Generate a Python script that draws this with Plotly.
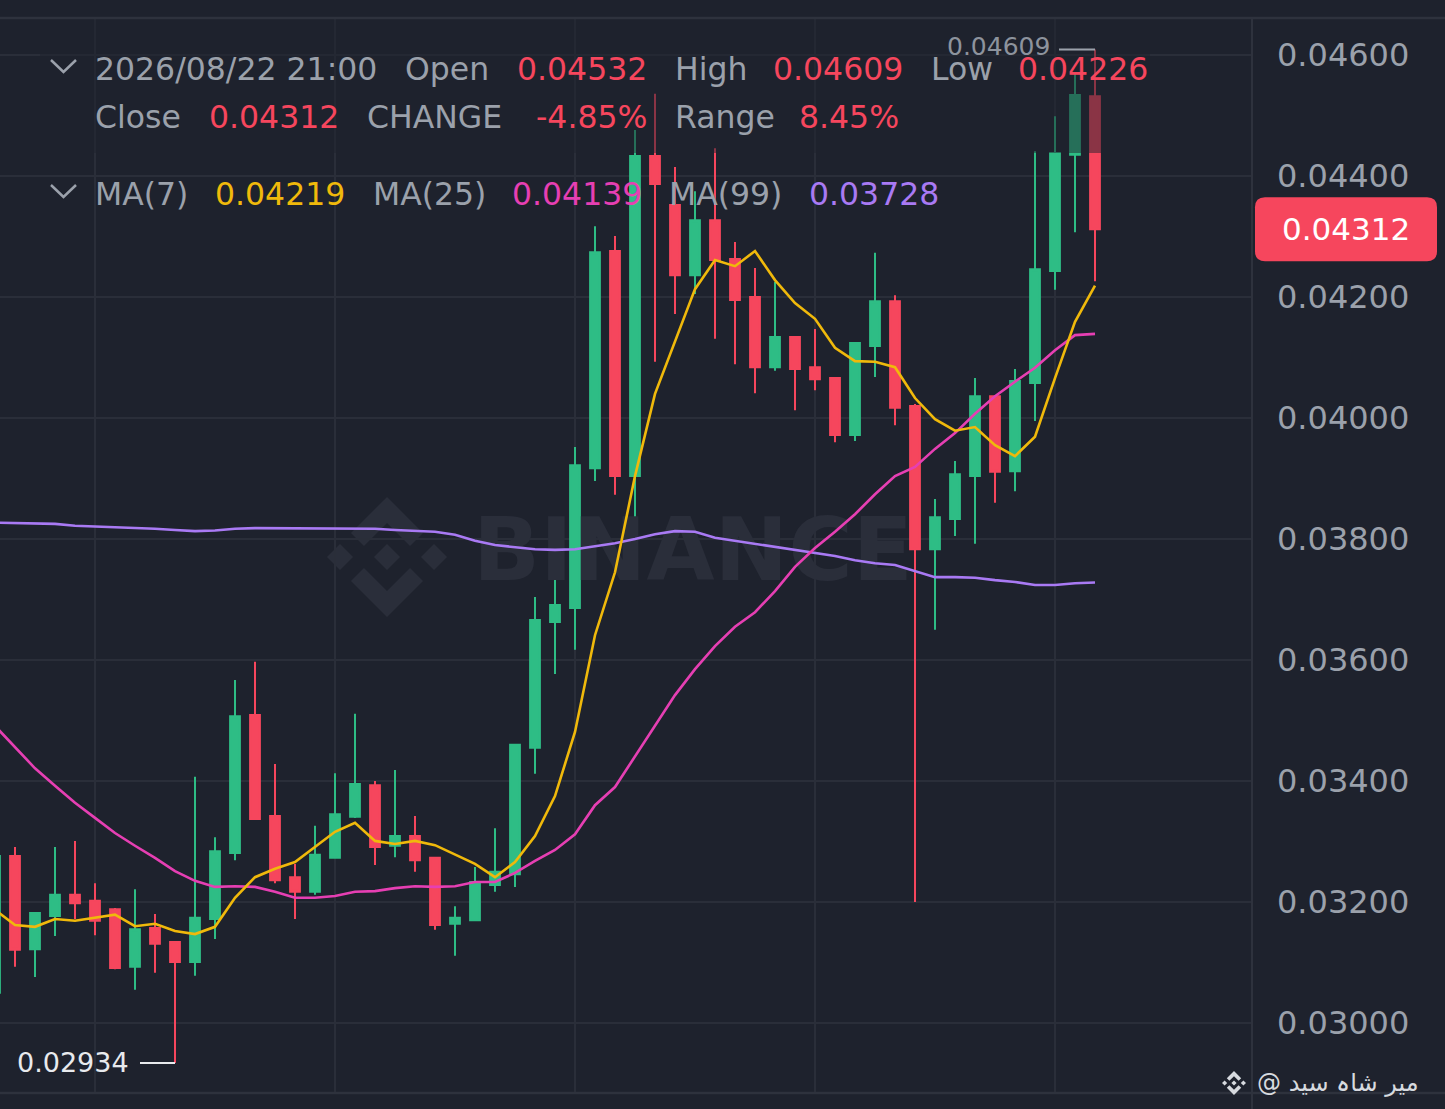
import plotly.graph_objects as go

# ── Datos (velas de 1h, índice relativo; la última es 2026/08/22 21:00) ──────
LAST_TIME = "2026/08/22 21:00"
idx = list(range(-1, 55))

opens = [0.03050, 0.03276, 0.03122, 0.03177, 0.03212, 0.03202, 0.03188, 0.03093,
         0.03157, 0.03134, 0.03101, 0.03172, 0.03281, 0.03509, 0.03342, 0.03241,
         0.03217, 0.03273, 0.03341, 0.03393, 0.03293, 0.03309, 0.03273, 0.03164,
         0.03170, 0.03228, 0.03246, 0.03455, 0.03663, 0.03686, 0.03917, 0.04276,
         0.03904, 0.04433, 0.04352, 0.04236, 0.04327, 0.04263, 0.04200, 0.04084,
         0.04134, 0.04084, 0.04066, 0.03972, 0.04119, 0.04193, 0.04020, 0.03783,
         0.03833, 0.03904, 0.04036, 0.03912, 0.04058, 0.04243, 0.04435, 0.04532]
highs = [0.03286, 0.03291, 0.03182, 0.03291, 0.03301, 0.03231, 0.03190, 0.03221,
         0.03180, 0.03134, 0.03407, 0.03307, 0.03567, 0.03597, 0.03428, 0.03263,
         0.03326, 0.03413, 0.03511, 0.03400, 0.03418, 0.03342, 0.03274, 0.03193,
         0.03258, 0.03322, 0.03460, 0.03704, 0.03807, 0.03952, 0.04317, 0.04301,
         0.04476, 0.04536, 0.04415, 0.04375, 0.04446, 0.04291, 0.04248, 0.04225,
         0.04134, 0.04147, 0.04066, 0.04124, 0.04273, 0.04203, 0.04023, 0.03866,
         0.03929, 0.04066, 0.04036, 0.04081, 0.04441, 0.04499, 0.04570, 0.04609]
lows = [0.03038, 0.03093, 0.03076, 0.03144, 0.03172, 0.03145, 0.03089, 0.03055,
        0.03083, 0.02934, 0.03078, 0.03139, 0.03269, 0.03337, 0.03231, 0.03172,
        0.03212, 0.03273, 0.03339, 0.03261, 0.03274, 0.03250, 0.03154, 0.03111,
        0.03170, 0.03217, 0.03225, 0.03412, 0.03577, 0.03617, 0.03896, 0.03873,
        0.03762, 0.04093, 0.04172, 0.04205, 0.04131, 0.04089, 0.04041, 0.04078,
        0.04013, 0.04046, 0.03960, 0.03962, 0.04068, 0.03988, 0.03200, 0.03650,
        0.03805, 0.03792, 0.03860, 0.03879, 0.03995, 0.04212, 0.04307, 0.04226]
closes = [0.03276, 0.03121, 0.03182, 0.03212, 0.03198, 0.03169, 0.03091, 0.03155,
          0.03131, 0.03101, 0.03174, 0.03284, 0.03507, 0.03337, 0.03236, 0.03217,
          0.03278, 0.03345, 0.03395, 0.03291, 0.03309, 0.03269, 0.03162, 0.03174,
          0.03233, 0.03250, 0.03460, 0.03666, 0.03691, 0.03922, 0.04274, 0.03904,
          0.04433, 0.04387, 0.04236, 0.04327, 0.04261, 0.04195, 0.04084, 0.04134,
          0.04081, 0.04064, 0.03972, 0.04124, 0.04193, 0.04017, 0.03783, 0.03836,
          0.03907, 0.04036, 0.03911, 0.04061, 0.04246, 0.04438, 0.04534, 0.04312]

ma7 = [0.03187, 0.03162, 0.03159, 0.03172, 0.03169, 0.03174, 0.03179, 0.03160,
       0.03164, 0.03152, 0.03147, 0.03159, 0.03207, 0.03241, 0.03255, 0.03266,
       0.03291, 0.03316, 0.03331, 0.03301, 0.03296, 0.03301, 0.03294, 0.03279,
       0.03263, 0.03241, 0.03266, 0.03309, 0.03375, 0.03481, 0.03641, 0.03745,
       0.03904, 0.04040, 0.04126, 0.04213, 0.04261, 0.04251, 0.04276, 0.04228,
       0.04190, 0.04164, 0.04116, 0.04094, 0.04093, 0.04084, 0.04033, 0.03998,
       0.03979, 0.03985, 0.03955, 0.03937, 0.03969, 0.04066, 0.04159, 0.04219]
ma25 = [0.03491, 0.03456, 0.03421, 0.03392, 0.03364, 0.03339, 0.03314, 0.03293,
        0.03273, 0.03251, 0.03235, 0.03225, 0.03226, 0.03225, 0.03217, 0.03207,
        0.03207, 0.03210, 0.03217, 0.03218, 0.03223, 0.03226, 0.03225, 0.03226,
        0.03233, 0.03233, 0.03248, 0.03268, 0.03286, 0.03312, 0.03360, 0.03390,
        0.03441, 0.03493, 0.03542, 0.03585, 0.03623, 0.03655, 0.03679, 0.03714,
        0.03754, 0.03785, 0.03812, 0.03841, 0.03874, 0.03904, 0.03919, 0.03949,
        0.03975, 0.04007, 0.04036, 0.04060, 0.04083, 0.04112, 0.04137, 0.04139]
ma99 = [0.03827, 0.03826, 0.03826, 0.03825, 0.03822, 0.03821, 0.03819, 0.03818,
        0.03817, 0.03815, 0.03813, 0.03814, 0.03817, 0.03818, 0.03818, 0.03818,
        0.03818, 0.03818, 0.03818, 0.03817, 0.03815, 0.03813, 0.03812, 0.03807,
        0.03797, 0.03790, 0.03787, 0.03783, 0.03782, 0.03783, 0.03788, 0.03793,
        0.03800, 0.03808, 0.03813, 0.03812, 0.03802, 0.03797, 0.03792, 0.03787,
        0.03783, 0.03777, 0.03772, 0.03765, 0.03760, 0.03757, 0.03747, 0.03737,
        0.03737, 0.03736, 0.03732, 0.03729, 0.03724, 0.03724, 0.03727, 0.03728]

y_ticks = [0.030, 0.032, 0.034, 0.036, 0.038, 0.040, 0.042, 0.044, 0.046]

# ── Colores ────────────────────────────────────────────────────────────────
BG     = "#1e222d"
GRID   = "#2a2e39"
GREEN  = "#2ebd85"
RED    = "#f6465d"
YELLOW = "#f0b90b"
PINK   = "#e63fb3"
PURPLE = "#a97af4"
GRAY   = "#9ba1ab"
WMARK  = "#2a2e3a"
FONT   = "DejaVu Sans"

# Área del gráfico en píxeles de la página
W, H = 1445, 1109
PL, PR, PT, PB = 0, 1252, 18, 1093


def px(x):
    return (x - PL) / (PR - PL)


def py(y):
    return (PB - y) / (PB - PT)


def poly(points, cx, cy, s):
    pts = [f"{px(cx + s * a):.5f},{py(cy + s * b):.5f}" for a, b in points]
    return "M " + " L ".join(pts) + " Z"


def binance_logo(cx, cy, s, color, layer):
    d = 13
    parts = [
        [(0, -d), (d, 0), (0, d), (-d, 0)],
        [(-47, -d), (-47 + d, 0), (-47, d), (-47 - d, 0)],
        [(47, -d), (47 + d, 0), (47, d), (47 - d, 0)],
        [(0, -60), (36, -24), (23, -11), (0, -34), (-23, -11), (-36, -24)],
        [(0, 60), (36, 24), (23, 11), (0, 34), (-23, 11), (-36, 24)],
    ]
    return [dict(type="path", xref="paper", yref="paper", path=poly(p, cx, cy, s),
                 fillcolor=color, line=dict(width=0), layer=layer) for p in parts]


# ── Figura ─────────────────────────────────────────────────────────────────
fig = go.Figure()

# marca de agua (debajo de las velas)
fig.add_trace(go.Scatter(
    x=[33.9], y=[0.03768], mode="text", text=["BINANCE"],
    textfont=dict(family=FONT, size=88, color=WMARK, weight="bold"),
    hoverinfo="skip", showlegend=False,
))

fig.add_trace(go.Candlestick(
    x=idx, open=opens, high=highs, low=lows, close=closes,
    increasing=dict(line=dict(color=GREEN, width=2), fillcolor=GREEN),
    decreasing=dict(line=dict(color=RED, width=2), fillcolor=RED),
    whiskerwidth=0, hoverinfo="skip", showlegend=False,
))

for vals, color in [(ma99, PURPLE), (ma25, PINK), (ma7, YELLOW)]:
    fig.add_trace(go.Scatter(
        x=idx, y=vals, mode="lines", line=dict(color=color, width=2.6),
        hoverinfo="skip", showlegend=False,
    ))

o, h, l, c = opens[-1], highs[-1], lows[-1], closes[-1]
change = (c - o) / o * 100
rng = (h - l) / o * 100

hi_i = max(range(len(highs)), key=lambda k: highs[k])
lo_i = min(range(len(lows)), key=lambda k: lows[k])
hi_x, hi_v = idx[hi_i], highs[hi_i]
lo_x, lo_v = idx[lo_i], lows[lo_i]

shapes = []
shapes += binance_logo(387, 557, 1.0, WMARK, "between")

# velo semitransparente de la leyenda
shapes.append(dict(type="rect", xref="paper", yref="paper",
                   x0=px(40), x1=px(1150), y0=py(153), y1=py(PT),
                   fillcolor="rgba(30,34,45,0.5)", line=dict(width=0), layer="above"))

# marcas de máximo y mínimo
shapes.append(dict(type="line", xref="x", yref="y", x0=hi_x - 1.8, x1=hi_x,
                   y0=hi_v, y1=hi_v, line=dict(color=GRAY, width=2), layer="above"))
shapes.append(dict(type="line", xref="x", yref="y", x0=lo_x - 1.75, x1=lo_x,
                   y0=lo_v, y1=lo_v, line=dict(color="#e8eaed", width=2), layer="above"))

# bordes del panel
for yy in (PT, PB):
    shapes.append(dict(type="line", xref="paper", yref="paper", x0=0, x1=W / (PR - PL),
                       y0=py(yy), y1=py(yy), line=dict(color="#2e323d", width=2.5)))
shapes.append(dict(type="line", xref="paper", yref="paper", x0=1, x1=1,
                   y0=py(H), y1=py(PT), line=dict(color="#2e323d", width=2)))

# flechas desplegables de la leyenda
for yc in (66, 191):
    shapes.append(dict(type="path", xref="paper", yref="paper",
                       path=f"M {px(51)},{py(yc - 6)} L {px(63.5)},{py(yc + 6)} L {px(76)},{py(yc - 6)}",
                       line=dict(color=GRAY, width=2.5), layer="above"))

# etiqueta del último precio
shapes.append(dict(type="path", xref="paper", yref="y", xsizemode="pixel", ysizemode="pixel",
                   xanchor=1, yanchor=c,
                   path="M 13,32 L 175,32 Q 185,32 185,22 L 185,-22 Q 185,-32 175,-32 "
                        "L 13,-32 Q 3,-32 3,-22 L 3,22 Q 3,32 13,32 Z",
                   fillcolor=RED, line=dict(width=0), layer="above"))

# logo pequeño de la firma
shapes += binance_logo(1234, 1083, 0.2, "#d7dadf", "above")

# ── Leyenda (texto) ────────────────────────────────────────────────────────
legend = [
    (LAST_TIME, GRAY, 93, 69), ("Open", GRAY, 403, 69), (f"{o:.5f}", RED, 515, 69),
    ("High", GRAY, 673, 69), (f"{h:.5f}", RED, 771, 69),
    ("Low", GRAY, 929, 69), (f"{l:.5f}", RED, 1016, 69),
    ("Close", GRAY, 93, 117), (f"{c:.5f}", RED, 207, 117),
    ("CHANGE", GRAY, 365, 117), (f"{change:.2f}%", RED, 534, 117),
    ("Range", GRAY, 673, 117), (f"{rng:.2f}%", RED, 797, 117),
    ("MA(7)", GRAY, 93, 194), (f"{ma7[-1]:.5f}", YELLOW, 213, 194),
    ("MA(25)", GRAY, 371, 194), (f"{ma25[-1]:.5f}", PINK, 510, 194),
    ("MA(99)", GRAY, 667, 194), (f"{ma99[-1]:.5f}", PURPLE, 807, 194),
]
annotations = [dict(text=t, x=px(x), y=py(y), xref="paper", yref="paper",
                    xanchor="left", yanchor="middle", showarrow=False,
                    font=dict(family=FONT, size=31.5, color=col))
               for t, col, x, y in legend]

annotations += [
    dict(text=f"{hi_v:.5f}", x=hi_x - 2.15, y=hi_v, xref="x", yref="y", xanchor="right",
         yanchor="middle", yshift=3, showarrow=False,
         font=dict(family=FONT, size=25, color="#8d939d")),
    dict(text=f"{lo_v:.5f}", x=lo_x - 2.2, y=lo_v, xref="x", yref="y", xanchor="right",
         yanchor="middle", showarrow=False, font=dict(family=FONT, size=27, color="#e8eaed")),
    dict(text=f"{c:.5f}", x=px(1346), y=c, xref="paper", yref="y", xanchor="center",
         yanchor="middle", showarrow=False, font=dict(family=FONT, size=31, color="#ffffff")),
    dict(text="@ میر شاہ سید", x=px(1255), y=py(1083), xref="paper", yref="paper",
         xanchor="left", yanchor="middle", showarrow=False,
         font=dict(family=FONT, size=24, color="#d7dadf")),
]

fig.update_layout(
    width=W, height=H,
    paper_bgcolor=BG, plot_bgcolor=BG,
    margin=dict(l=PL, r=W - PR, t=PT, b=H - PB, pad=0),
    showlegend=False,
    hovermode=False,
    shapes=shapes,
    annotations=annotations,
    font=dict(family=FONT, color=GRAY),
)
fig.update_xaxes(
    range=[-0.75, 61.85], rangeslider_visible=False,
    tick0=4, dtick=12, showticklabels=False, ticks="",
    showgrid=True, gridcolor=GRID, gridwidth=2, zeroline=False, showline=False,
)
fig.update_yaxes(
    side="right", range=[0.028843, 0.046612],
    tickvals=y_ticks, tickformat=".5f", ticks="", ticklabelstandoff=24,
    tickfont=dict(family=FONT, size=32, color=GRAY),
    showgrid=True, gridcolor=GRID, gridwidth=2, zeroline=False, showline=False,
)

fig.write_html("out.html", config={"displayModeBar": False},
               post_script="document.body.style.margin='0';document.body.style.overflow='hidden';")
